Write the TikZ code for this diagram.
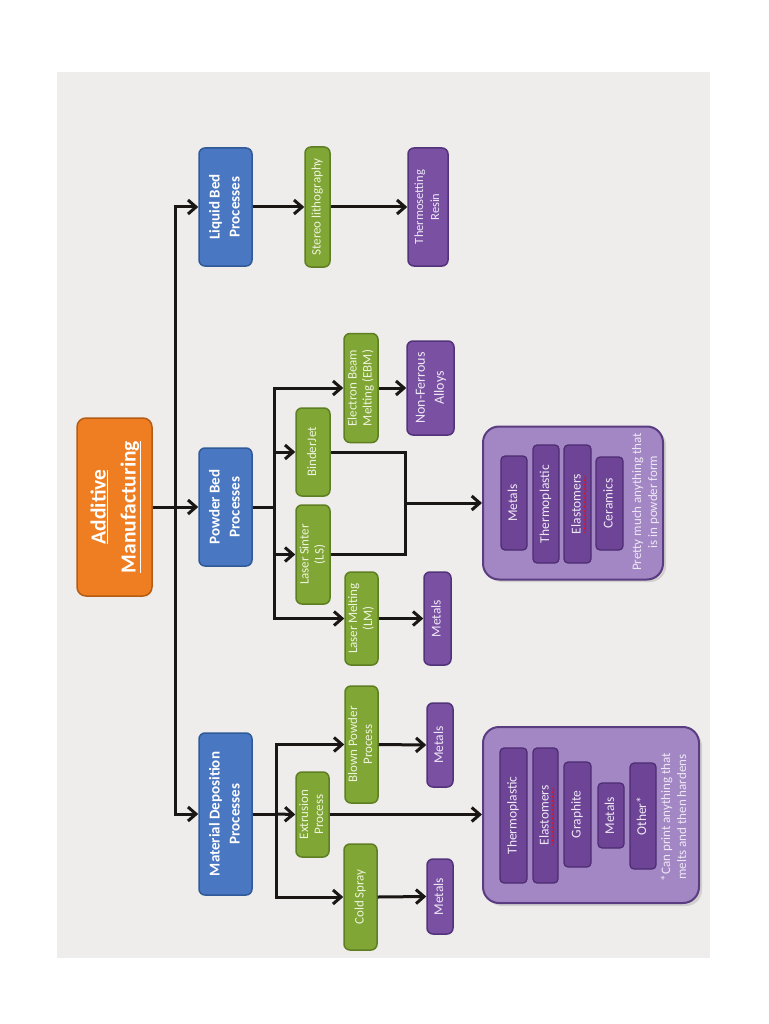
\documentclass[tikz,border=0pt]{standalone}
\usepackage{fontspec}
\setmainfont{Carlito}
\usetikzlibrary{arrows.meta}
\definecolor{bg}{HTML}{EEEDEB}
\definecolor{orf}{HTML}{EF7D22}
\definecolor{ord}{HTML}{B55C14}
\definecolor{blf}{HTML}{4A77C1}
\definecolor{bld}{HTML}{2F5A97}
\definecolor{grf}{HTML}{80A636}
\definecolor{grd}{HTML}{5E7E22}
\definecolor{grt}{HTML}{EEF4DC}
\definecolor{puf}{HTML}{7A50A3}
\definecolor{pud}{HTML}{52337A}
\definecolor{put}{HTML}{EEE8F5}
\definecolor{ctf}{HTML}{A387C4}
\definecolor{ctd}{HTML}{5A3C80}
\definecolor{inf}{HTML}{6E4596}
\definecolor{ind}{HTML}{4B2C70}
\definecolor{ln}{HTML}{1A1614}
\definecolor{shd}{HTML}{D2D0CE}
\newcommand{\rt}[3]{\rotatebox{90}{\fontsize{#1}{#2}\selectfont\begin{tabular}{@{}c@{}}#3\end{tabular}}}
\begin{document}
\begin{tikzpicture}[x=1pt,y=-1pt,
 wh/.style 2 args={minimum width=#1pt, minimum height=#2pt},
 box/.style={draw, line width=1.5pt, rounded corners=6pt, inner sep=0pt},
 amstyle/.style={box, fill=orf, draw=ord, text=white, font=\bfseries, rounded corners=9pt},
 bluebox/.style={box, fill=blf, draw=bld, text=white, font=\bfseries},
 greenbox/.style={box, fill=grf, draw=grd, text=grt},
 purplebox/.style={box, fill=puf, draw=pud, text=put},
 container/.style={box, fill=ctf, draw=ctd, line width=2pt, rounded corners=16pt},
 innerbox/.style={box, fill=inf, draw=ind, text=put, line width=1.2pt, rounded corners=4pt},
 note/.style={inner sep=0pt, text=put},
 wire/.style={draw=ln, line width=3pt},
 arr/.style={wire, -{Straight Barb[length=8pt,width=14pt]}},
 squig/.style={draw=red, line width=0.6pt},
]
\useasboundingbox (0,0) rectangle (768,1024);
\fill[white] (0,0) rectangle (768,1024);
\fill[bg] (57,72) rectangle (710,958);

% main node
\node[amstyle, wh={75}{178}] (am) at (114.5,507) {\rt{21.5}{30}{\underline{Additive}\\\underline{Manufacturing}}};

% process categories
\node[bluebox, wh={53}{118}] (lbp) at (225.5,207) {\rt{15}{20}{Liquid Bed\\Processes}};
\node[bluebox, wh={53}{118}] (pbp) at (225.5,507) {\rt{15}{20}{Powder Bed\\Processes}};
\node[bluebox, wh={53}{162}] (mdp) at (225.5,814) {\rt{15}{20}{Material Deposition\\Processes}};

% liquid bed
\node[greenbox, wh={25}{120}] (sl) at (317.5,207) {\rt{13}{15}{Stereo lithography}};
\node[purplebox, wh={40}{118}] (tr) at (428,207) {\rt{12.5}{16}{Thermosetting\\Resin}};

% powder bed
\node[greenbox, wh={34}{109}] (ebm) at (361,388) {\rt{13}{15}{Electron Beam\\Melting (EBM)}};
\node[purplebox, wh={47}{94}] (nfa) at (430.5,388) {\rt{14}{19}{Non-Ferrous\\Alloys}};
\node[greenbox, wh={34}{88}] (bj) at (313,452) {\rt{13}{15}{BinderJet}};
\node[greenbox, wh={34}{99}] (ls) at (313,554.5) {\rt{13}{15}{Laser\,Sinter\\(LS)}};
\node[greenbox, wh={33}{93}] (lm) at (361.5,618.5) {\rt{13}{15}{Laser\,Melting\\(LM)}};
\node[purplebox, wh={27}{93}] (lmm) at (437.5,618.5) {\rt{13.5}{16}{Metals}};

\fill[shd, rounded corners=16pt] (486,429) rectangle (666,582);
\node[container, wh={180}{153}] (pc) at (573,503) {};
\node[innerbox, wh={26}{94}] (pm1) at (514,503) {\rt{13.5}{16}{Metals}};
\node[innerbox, wh={26}{118}] (pm2) at (546,504) {\rt{13.5}{16}{Thermoplastic}};
\node[innerbox, wh={27}{118}] (pm3) at (577.5,504) {\rt{13.5}{16}{Elastomers}};
\node[innerbox, wh={27}{93}] (pm4) at (609.5,503.5) {\rt{13.5}{16}{Ceramics}};
\node[note] (pnote) at (646,502) {\rt{13}{16}{Pretty much anything that\\is in powder form}};
\draw[squig] (584.5,533) \foreach \i in {1,...,26} { -- ({584.5+1.5*mod(\i,2)},{533-2.2*\i}) };

% material deposition
\node[greenbox, wh={33}{117}] (bpp) at (361.5,744.5) {\rt{13}{15}{Blown Powder\\Process}};
\node[purplebox, wh={26}{84}] (bpm) at (440,745) {\rt{13.5}{16}{Metals}};
\node[greenbox, wh={33}{85}] (ext) at (312.5,814.5) {\rt{13}{15}{Extrusion\\Process}};
\node[greenbox, wh={33}{106}] (cs) at (360.5,897) {\rt{13}{15}{Cold Spray}};
\node[purplebox, wh={26}{75}] (csm) at (440,896.5) {\rt{13.5}{16}{Metals}};

\fill[shd, rounded corners=16pt] (486,730) rectangle (702,906);
\node[container, wh={216}{176}] (dc) at (591,815) {};
\node[innerbox, wh={27}{135}] (dm1) at (513.5,815.5) {\rt{13.5}{16}{Thermoplastic}};
\node[innerbox, wh={25}{135}] (dm2) at (545.5,815.5) {\rt{13.5}{16}{Elastomers}};
\node[innerbox, wh={27}{105}] (dm3) at (577.5,814.5) {\rt{13.5}{16}{Graphite}};
\node[innerbox, wh={26}{65}] (dm4) at (611,815.5) {\rt{13.5}{16}{Metals}};
\node[innerbox, wh={26}{106}] (dm5) at (643,816) {\rt{13.5}{16}{Other*}};
\node[note] (dnote) at (675,817) {\rt{13}{16}{*Can print anything that\\melts and then hardens}};
\draw[squig] (552.5,845) \foreach \i in {1,...,26} { -- ({552.5+1.5*mod(\i,2)},{845-2.2*\i}) };

% junction coordinates
\coordinate (sp) at (175,507);
\coordinate (pj) at (274,507);
\coordinate (mj) at (405,503);
\coordinate (mdj) at (276,814);

% spine
\draw[arr] (am.east) -- (sp) |- (lbp.west);
\draw[arr] (sp) |- (mdp.west);
\draw[arr] (sp) -- (pbp.west);

% liquid bed
\draw[arr] (lbp.east) -- (sl.west);
\draw[arr] (sl.east) -- (tr.west);

% powder bed
\draw[arr] (pbp.east) -- (pj) |- (ebm.west);
\draw[arr] (pj) |- (lm.west);
\draw[arr] (pj |- bj.west) -- (bj.west);
\draw[arr] (pj |- ls.west) -- (ls.west);
\draw[arr] (ebm.east) -- (nfa.west);
\draw[arr] (lm.east) -- (lmm.west);
\draw[wire] (bj.east) -| (mj);
\draw[wire] (ls.east) -| (mj);
\draw[arr] (mj) -- (pc.west);

% material deposition
\draw[arr] (mdp.east) -- (mdj) |- (bpp.west);
\draw[arr] (mdj) |- (cs.west);
\draw[arr] (mdj) -- (ext.west);
\draw[arr] (bpp.east) -- (bpm.west);
\draw[arr] (cs.east) -- (csm.west);
\draw[arr] (ext.east) -- (dc.west |- ext.east);
\end{tikzpicture}
\end{document}
